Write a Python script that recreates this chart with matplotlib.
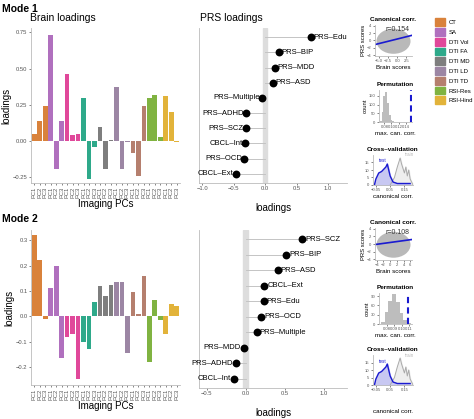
import matplotlib
matplotlib.use("Agg")
import matplotlib.pyplot as plt
from matplotlib.patches import Ellipse, Patch
import numpy as np

plt.rcParams['font.family'] = ['Liberation Sans', 'DejaVu Sans']

groups = ["CT", "SA", "DTI Vol", "DTI FA", "DTI MD", "DTI LD", "DTI TD", "RSI-Res", "RSI-Hind"]
group_colors = ["#D9823B", "#B070BE", "#E0489A", "#2EA98A", "#7E7E7E", "#9C86A4", "#B57F6E", "#80B341", "#E2B33A"]
pc_labels = ["PC1", "PC2", "PC3"]

brain1 = [0.05, 0.14, 0.24, 0.73, -0.19, 0.14, 0.46, 0.04, 0.05,
          0.30, -0.26, -0.04, 0.10, -0.19, 0.005, 0.37, -0.19, -0.01,
          -0.085, -0.24, 0.24, 0.30, 0.32, 0.03, 0.31, 0.20, -0.005]
brain2 = [0.32, 0.22, -0.01, 0.11, 0.20, -0.165, -0.08, -0.07, -0.245,
          -0.10, -0.13, 0.055, 0.12, 0.08, 0.125, 0.135, 0.135, -0.145,
          0.095, 0.01, 0.16, -0.18, 0.065, -0.015, -0.07, 0.05, 0.04]

prs1_names = ["PRS\u2013Edu", "PRS\u2013BIP", "PRS\u2013MDD", "PRS\u2013ASD", "PRS\u2013Multiple",
              "PRS\u2013ADHD", "PRS\u2013SCZ", "CBCL\u2013Int", "PRS\u2013OCD", "CBCL\u2013Ext"]
prs1_vals = [0.73, 0.22, 0.16, 0.12, -0.05, -0.30, -0.31, -0.32, -0.33, -0.46]
prs2_names = ["PRS\u2013SCZ", "PRS\u2013BIP", "PRS\u2013ASD", "CBCL\u2013Ext", "PRS\u2013Edu",
              "PRS\u2013OCD", "PRS\u2013Multiple", "PRS\u2013MDD", "PRS\u2013ADHD", "CBCL\u2013Int"]
prs2_vals = [0.72, 0.52, 0.41, 0.24, 0.23, 0.20, 0.14, -0.02, -0.12, -0.15]

r_vals = [0.154, 0.108]
slopes = [0.25, 0.12]
perm_bins1 = [0.070, 0.075, 0.080, 0.085, 0.090, 0.095, 0.100, 0.105, 0.110]
perm_counts1 = [5, 60, 150, 175, 110, 40, 12, 3, 1]
perm_bins2 = [0.075, 0.080, 0.085, 0.090, 0.095, 0.100, 0.105, 0.110]
perm_counts2 = [8, 40, 75, 95, 70, 35, 12, 4]

cv_test_x = [-0.06, -0.05, -0.03, -0.01, 0.01, 0.02, 0.03, 0.05, 0.07, 0.10, 0.15, 0.19]
cv_test_y = [0, 4, 8, 9, 11, 12, 14, 6, 2, 1, 1, 1]
cv_train_x = [0.05, 0.08, 0.10, 0.12, 0.13, 0.15, 0.16, 0.17, 0.18, 0.19, 0.21]
cv_train_y = [0, 5, 12, 18, 14, 8, 12, 6, 10, 4, 0]

W, H = 474, 419
fig = plt.figure(figsize=(W/100, H/100), dpi=100)

def ax_px(x0, y0, x1, y1):
    return fig.add_axes([x0/W, 1 - y1/H, (x1-x0)/W, (y1-y0)/H])

def style(ax, fs=4.2):
    for s in ["top", "right"]:
        ax.spines[s].set_visible(False)
    for s in ["left", "bottom"]:
        ax.spines[s].set_color("#bbbbbb")
        ax.spines[s].set_linewidth(0.6)
    ax.tick_params(labelsize=fs, colors="#555555", length=1.5, width=0.5, pad=1)

bar_colors = [c for c in group_colors for _ in range(3)]

def brain(ax, vals, yt, ylim):
    x = np.arange(len(vals))
    ax.bar(x, vals, color=bar_colors, width=0.85)
    ax.set_xticks(x)
    ax.set_xticklabels(pc_labels * 9, rotation=90, fontsize=3.2)
    ax.set_yticks(yt)
    ax.set_ylim(*ylim)
    ax.set_xlim(-0.6, len(vals) - 0.4)
    style(ax)
    ax.set_ylabel("loadings", fontsize=7, labelpad=1)
    ax.set_xlabel("Imaging PCs", fontsize=7, labelpad=1)

def prs(ax, names, vals, xlim):
    y = np.arange(len(vals))[::-1]
    ax.axvspan(-0.035, 0.035, color="#dddddd", zorder=0)
    for yi, v, n in zip(y, vals, names):
        ax.plot([0, v], [yi, yi], color="#c4c4c4", lw=0.7, zorder=1)
        ax.scatter([v], [yi], s=32, color="black", zorder=3, linewidths=0)
        if v >= 0:
            ax.text(v + 0.04, yi, n, fontsize=5.5, va="center", ha="left")
        else:
            ax.text(v - 0.04, yi, n, fontsize=5.5, va="center", ha="right")
    ax.set_yticks([])
    ax.set_xlim(*xlim)
    ax.set_ylim(-0.6, len(vals) - 0.4)
    style(ax)
    ax.set_xlabel("loadings", fontsize=7, labelpad=8)

def canon(ax, r, slope, xt, xlim):
    ax.add_patch(Ellipse(((xlim[0]+xlim[1])/2, -0.2), (xlim[1]-xlim[0])*0.92, 6.8,
                         facecolor="#b9b9b9", edgecolor="none", zorder=1))
    xx = np.array(xlim)
    ax.plot(xx, slope*xx + 0.4, color="#1a1ad0", lw=1.2, zorder=2)
    ax.set_xlim(*xlim); ax.set_ylim(-4.2, 4.2)
    ax.set_yticks([-4, -2, 0, 2, 4]); ax.set_xticks(xt)
    style(ax, 3.0)
    ax.text(0.62, 0.85, "r=%.3f" % r, transform=ax.transAxes, fontsize=5, ha="center", va="center", color="#333333", zorder=3)
    ax.set_title("Canonical corr.", fontsize=4.6, fontweight="bold", pad=3)
    ax.set_ylabel("PRS scores", fontsize=4.2, labelpad=1)
    ax.set_xlabel("Brain scores", fontsize=4.5, labelpad=1)

def perm(ax, bins, counts, r, xt, xlim, yt):
    ax.bar(bins, counts, width=bins[1]-bins[0], color="#bdbdbd", align="center")
    ax.axvline(r, color="#1a1ad0", ls=(0, (3, 2)), lw=1.5)
    ax.set_xlim(*xlim); ax.set_xticks(xt); ax.set_yticks(yt)
    style(ax, 3.0)
    ax.set_title("Permutation", fontsize=4.6, fontweight="bold", pad=3)
    ax.set_ylabel("count", fontsize=4.2, labelpad=1)
    ax.set_xlabel("max. can. corr.", fontsize=4.5, labelpad=1)

def cv(ax, label_gap):
    ax.fill_between(cv_train_x, cv_train_y, color="#eeeeee")
    ax.plot(cv_train_x, cv_train_y, color="#aaaaaa", lw=0.7)
    ax.fill_between(cv_test_x, cv_test_y, color="#c8c8f2")
    ax.plot(cv_test_x, cv_test_y, color="#1a1ad0", lw=1.0)
    ax.text(-0.03, 15, "test", fontsize=3.3, color="#1a1ad0")
    ax.text(0.15, 19, "train", fontsize=3.3, color="#bbbbbb")
    ax.set_xlim(-0.07, 0.21); ax.set_ylim(0, 20)
    ax.set_xticks([-0.05, 0.05, 0.15]); ax.set_yticks([0, 5, 10, 15])
    style(ax, 3.0)
    ax.set_title("Cross\u2013validation", fontsize=4.6, fontweight="bold", pad=3)
    ax.set_xlabel("canonical corr.", fontsize=4.5, labelpad=label_gap)

# Mode 1
fig.text(2/W, 1 - 9/H, "Mode 1", fontsize=7.5, fontweight="bold", va="center")
fig.text(30/W, 1 - 18/H, "Brain loadings", fontsize=7.5, va="center")
fig.text(200/W, 1 - 18/H, "PRS loadings", fontsize=7.5, va="center")
a = ax_px(31, 28, 180, 183)
brain(a, brain1, [-0.25, 0, 0.25, 0.5, 0.75], (-0.29, 0.78))
a = ax_px(199, 28, 347, 183)
prs(a, prs1_names, prs1_vals, (-1.05, 1.3))
a.set_xticks([-1.0, -0.5, 0.0, 0.5, 1.0])
canon(ax_px(375, 25, 412, 56), r_vals[0], slopes[0], [-5, -2.5, 0, 2.5], (-6, 4))
perm(ax_px(379, 90, 412, 122), perm_bins1, perm_counts1, r_vals[0],
     [0.08, 0.10, 0.12, 0.14], (0.065, 0.158), [0, 50, 100, 150])
cv(ax_px(373, 155, 413, 185), 1)

# legend
handles = [Patch(color=c, label=g) for g, c in zip(groups, group_colors)]
fig.legend(handles=handles, loc="upper left", bbox_to_anchor=(430/W, 1 - 13/H), frameon=False,
           fontsize=4.3, handlelength=1.6, handleheight=1.6, labelspacing=0.35, handletextpad=0.6)

# Mode 2
fig.text(2/W, 1 - 219/H, "Mode 2", fontsize=7.5, fontweight="bold", va="center")
a = ax_px(31, 230, 180, 385)
brain(a, brain2, [-0.2, -0.1, 0, 0.1, 0.2, 0.3], (-0.27, 0.34))
a = ax_px(199, 230, 347, 388)
prs(a, prs2_names, prs2_vals, (-0.6, 1.3))
a.set_xticks([-0.5, 0.0, 0.5, 1.0])
canon(ax_px(375, 228, 412, 260), r_vals[1], slopes[1], [-4, -2, 0, 2, 4, 6], (-4.5, 6.5))
perm(ax_px(379, 293, 412, 324), perm_bins2, perm_counts2, r_vals[1],
     [0.08, 0.09, 0.10, 0.11], (0.07, 0.114), [0, 30, 60, 90])
cv(ax_px(373, 355, 413, 385), 12)

fig.savefig("out.png", dpi=100, facecolor="white")
